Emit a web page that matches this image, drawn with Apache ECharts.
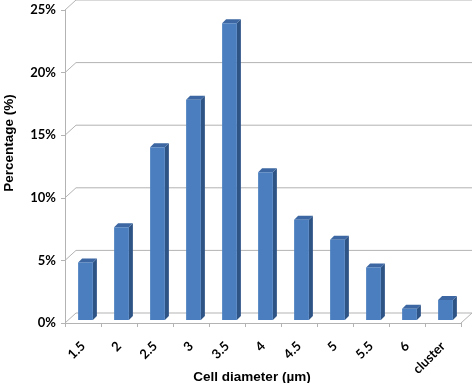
<!DOCTYPE html>
<html><head><meta charset="utf-8">
<script src="https://cdn.jsdelivr.net/npm/echarts@6/dist/echarts.min.js"></script>
<style>html,body{margin:0;padding:0;background:#fff}#c{width:474px;height:383px}</style>
</head><body><div id="c"></div>
<script>
const categories = ['1.5','2','2.5','3','3.5','4','4.5','5','5.5','6','cluster'];
const percentages = [4.6, 7.4, 13.8, 17.6, 23.7, 11.8, 8.0, 6.4, 4.2, 0.9, 1.6];
const yTicks = [0, 5, 10, 15, 20, 25];

const WALL_DX = 11, WALL_DY = -10;   // back wall offset
const BAR_DX = 2.5, BAR_DY = -3;     // bar front face offset
const BAR_DEPTH_X = 4, BAR_DEPTH_Y = -4;
const GRID_COLOR = '#b3b3b3';

const chart = echarts.init(document.getElementById('c'), null, {renderer: 'canvas'});
chart.setOption({
  animation: false,
  backgroundColor: '#fff',
  grid: {left: 65, right: 13, top: 10, bottom: 60, containLabel: false},
  xAxis: {
    type: 'category',
    data: categories,
    axisLine: {lineStyle: {color: GRID_COLOR}},
    axisTick: {show: true, length: 4, lineStyle: {color: GRID_COLOR}},
    axisLabel: {rotate: 45, margin: 21, color: '#000', fontFamily: 'Lato', fontWeight: 'bold', fontSize: 13, interval: 0}
  },
  yAxis: {
    type: 'value', min: 0, max: 25, interval: 5,
    axisLine: {show: true, lineStyle: {color: GRID_COLOR}},
    axisTick: {show: true, length: 4, lineStyle: {color: GRID_COLOR}},
    splitLine: {show: false},
    axisLabel: {formatter: '{value}%', margin: 9, color: '#000', fontFamily: 'Lato', fontWeight: 'bold', fontSize: 13}
  },
  graphic: [
    {type: 'text', x: 252, y: 377, style: {text: 'Cell diameter (µm)', fill: '#000', font: 'bold 13.5px "Liberation Sans", Arial', align: 'center', verticalAlign: 'middle'}},
    {type: 'text', x: 9, y: 143, rotation: Math.PI / 2, style: {text: 'Percentage (%)', fill: '#000', font: 'bold 13.5px "Liberation Sans", Arial', align: 'center', verticalAlign: 'middle'}}
  ],
  series: [
    {
      type: 'custom', z: 1, silent: true, clip: false,
      data: yTicks.map(v => [0, v]),
      renderItem: function (params, api) {
        const cs = params.coordSys;
        const y = api.coord([0, api.value(1)])[1];
        const x0 = cs.x, x1 = cs.x + cs.width;
        const pts = [[x0, y], [x0 + WALL_DX, y + WALL_DY], [x1 + WALL_DX, y + WALL_DY]];
        if (api.value(1) === 0) pts.push([x1, y]);
        return {type: 'polyline', shape: {points: pts}, style: {stroke: GRID_COLOR, lineWidth: 1, fill: null}};
      }
    },
    {
      type: 'custom', z: 3, clip: false,
      data: percentages.map((v, i) => [i, v]),
      renderItem: function (params, api) {
        const base = api.coord([api.value(0), 0]);
        const top = api.coord([api.value(0), api.value(1)]);
        const bw = api.size([1, 0])[0] * 0.41;
        const xl = base[0] - bw / 2 + BAR_DX, xr = xl + bw;
        const yb = base[1] + BAR_DY, yt = top[1] + BAR_DY;
        const dx = BAR_DEPTH_X, dy = BAR_DEPTH_Y;
        return {type: 'group', children: [
          {type: 'polygon', shape: {points: [[xr, yt], [xr + dx, yt + dy], [xr + dx, yb + dy], [xr, yb]]}, style: {fill: '#2e5486'}},
          {type: 'polygon', shape: {points: [[xl, yt], [xr, yt], [xr + dx, yt + dy], [xl + dx, yt + dy]]}, style: {fill: '#3c67a2'}},
          {type: 'rect', shape: {x: xl, y: yt, width: bw, height: yb - yt}, style: {fill: '#4a7ebf'}}
        ]};
      }
    }
  ]
});
</script></body></html>
